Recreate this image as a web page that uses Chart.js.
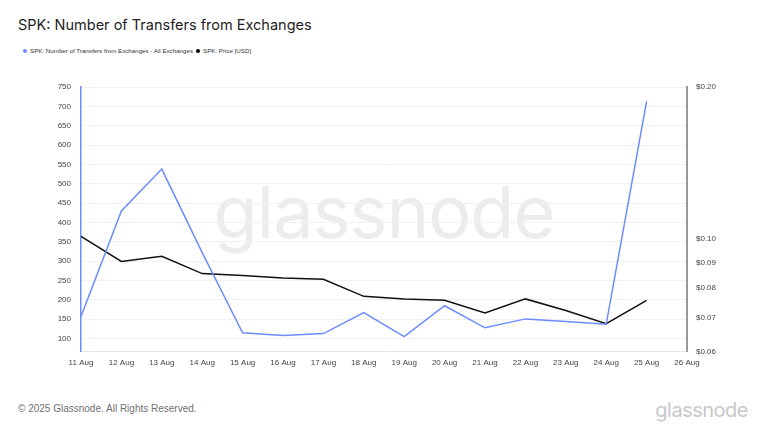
<!DOCTYPE html>
<html>
<head>
<meta charset="utf-8">
<script src="https://cdn.jsdelivr.net/npm/chart.js@4"></script>
<style>
    body { margin: 0; width: 768px; height: 432px; background: #fff; font-family: "Liberation Sans", Arial, sans-serif; overflow: hidden; position: relative; }
    .title { position: absolute; left: 18px; top: 16px; font-family: Inter, sans-serif; font-size: 14.5px; color: #1e1e1e; }
    .legend { position: absolute; top: 47px; font-size: 6.2px; color: #333; white-space: nowrap; }
    .legend span.dot { display: inline-block; width: 4px; height: 4px; border-radius: 50%; margin-right: 3px; vertical-align: 0px; }
    .watermark { position: absolute; left: 0; width: 768px; top: 168px; text-align: center; font-family: Inter, sans-serif; font-size: 72px; color: #ececec; letter-spacing: -1px; }
    .footer { position: absolute; left: 18px; top: 403px; font-size: 10px; color: #707070; }
    .logo { position: absolute; right: 20px; top: 398px; font-family: Inter, sans-serif; font-size: 20px; color: #c8c8c8; letter-spacing: -0.5px; }
    #chartWrap { position: absolute; left: 0; top: 70px; width: 768px; height: 305px; }
</style>
</head>
<body>
<div class="watermark">glassnode</div>
<div class="title">SPK: Number of Transfers from Exchanges</div>
<div class="legend" style="left:23px"><span class="dot" style="background:#6b8cff"></span>SPK: Number of Transfers from Exchanges - All Exchanges</div>
<div class="legend" style="left:196px"><span class="dot" style="background:#000"></span>SPK: Price [USD]</div>
<div id="chartWrap"><canvas id="chart"></canvas></div>
<div class="footer">© 2025 Glassnode. All Rights Reserved.</div>
<div class="logo">glassnode</div>
<script>
const dates = ['11 Aug', '12 Aug', '13 Aug', '14 Aug', '15 Aug', '16 Aug', '17 Aug', '18 Aug',
    '19 Aug', '20 Aug', '21 Aug', '22 Aug', '23 Aug', '24 Aug', '25 Aug', '26 Aug'];
const transfers = [157, 430, 538, 322, 115, 108, 113, 167, 105, 185, 128, 151, 144, 137, 713, null];
const price = [0.1013, 0.0904, 0.0925, 0.0855, 0.0848, 0.0838, 0.0833, 0.0771, 0.0762, 0.0757,
    0.0715, 0.0762, 0.0723, 0.0681, 0.0757, null];
const leftTicks = [100, 150, 200, 250, 300, 350, 400, 450, 500, 550, 600, 650, 700, 750];
const rightTicks = [0.06, 0.07, 0.08, 0.09, 0.1, 0.2];

const tickFont = { family: '"Liberation Sans", Arial, sans-serif', size: 8 };

new Chart(document.getElementById('chart'), {
    type: 'line',
    data: {
        labels: dates,
        datasets: [{
            label: 'SPK: Number of Transfers from Exchanges - All Exchanges',
            data: transfers,
            borderColor: '#6b8cff',
            borderWidth: 1.5,
            pointRadius: 0,
            tension: 0,
            yAxisID: 'y'
        }, {
            label: 'SPK: Price [USD]',
            data: price,
            borderColor: '#111',
            borderWidth: 1.5,
            pointRadius: 0,
            tension: 0,
            yAxisID: 'y1'
        }]
    },
    options: {
        responsive: true,
        maintainAspectRatio: false,
        animation: false,
        layout: { padding: { top: 17, bottom: 5 } },
        plugins: {
            legend: { display: false },
            tooltip: { enabled: false }
        },
        scales: {
            x: {
                offset: false,
                grid: { display: false, drawTicks: true, tickLength: 5, color: '#ddd' },
                border: { color: '#e6e6e6' },
                ticks: { color: '#444', font: tickFont, maxRotation: 0, autoSkip: false, padding: 2 }
            },
            y: {
                position: 'left',
                min: 67,
                max: 750,
                afterBuildTicks: axis => { axis.ticks = leftTicks.map(v => ({ value: v })); },
                afterFit: axis => { axis.width = 81; },
                grid: { color: '#f1f1f1', drawTicks: false },
                border: { color: '#6b8cff', width: 1.5 },
                ticks: { color: '#444', font: tickFont, padding: 10 }
            },
            y1: {
                type: 'logarithmic',
                position: 'right',
                min: 0.06,
                max: 0.2,
                afterBuildTicks: axis => { axis.ticks = rightTicks.map(v => ({ value: v })); },
                afterFit: axis => { axis.width = 81; },
                grid: { display: false, drawTicks: false },
                border: { color: '#999', width: 2 },
                ticks: {
                    color: '#444',
                    font: tickFont,
                    padding: 9,
                    callback: v => '$' + Number(v).toFixed(2)
                }
            }
        }
    }
});
</script>
</body>
</html>
